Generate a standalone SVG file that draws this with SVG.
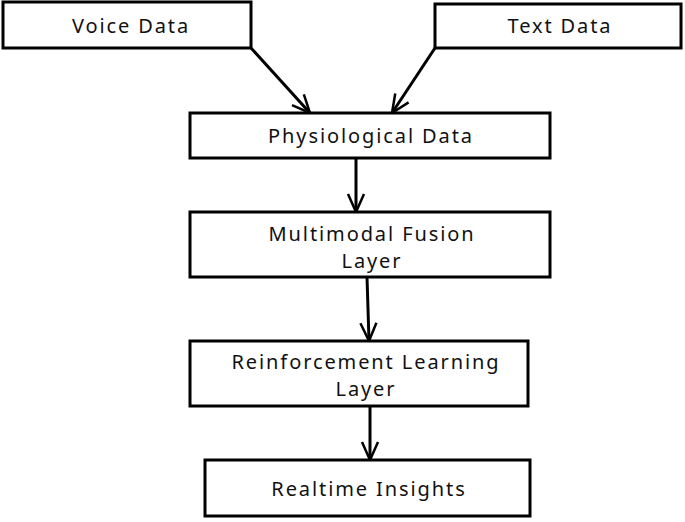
<svg xmlns="http://www.w3.org/2000/svg" width="685" height="522" viewBox="0 0 685 522">
<defs>
<marker id="ah" viewBox="0 0 20 20" refX="19" refY="10" markerWidth="20" markerHeight="20" markerUnits="userSpaceOnUse" orient="auto">
<path d="M1,2 L19,10 L1,18" fill="none" stroke="#000" stroke-width="2.5"/>
</marker>
<style>
rect{fill:#fff;stroke:#000;stroke-width:3}
text{font-family:"Noto Sans","Liberation Sans",sans-serif;font-size:20px;letter-spacing:1.9px;fill:#111;text-anchor:middle}
.c line{stroke:#000;stroke-width:3;marker-end:url(#ah)}
</style>
</defs>
<rect x="0" y="0" width="685" height="522" style="stroke:none"/>
<g id="voice"><rect x="3" y="2" width="248" height="46"/><text x="131" y="33">Voice Data</text></g>
<g id="text"><rect x="435" y="4" width="246" height="44"/><text x="560" y="33">Text Data</text></g>
<g id="phys"><rect x="190" y="113" width="360" height="45"/><text x="371" y="143">Physiological Data</text></g>
<g id="fusion"><rect x="190" y="212" width="360" height="65"/><text x="372" y="241">Multimodal Fusion</text><text x="372" y="268">Layer</text></g>
<g id="rl"><rect x="190" y="341" width="338" height="65"/><text x="366" y="369">Reinforcement Learning</text><text x="366" y="396">Layer</text></g>
<g id="insights"><rect x="205" y="460" width="325" height="56"/><text x="369" y="496">Realtime Insights</text></g>
<g class="c" id="connectors">
<line x1="251" y1="48" x2="310" y2="113"/>
<line x1="435" y1="48" x2="392" y2="113"/>
<line x1="356" y1="158" x2="356" y2="212"/>
<line x1="367" y1="277" x2="369" y2="341"/>
<line x1="370" y1="406" x2="370" y2="460"/>
</g>
</svg>
